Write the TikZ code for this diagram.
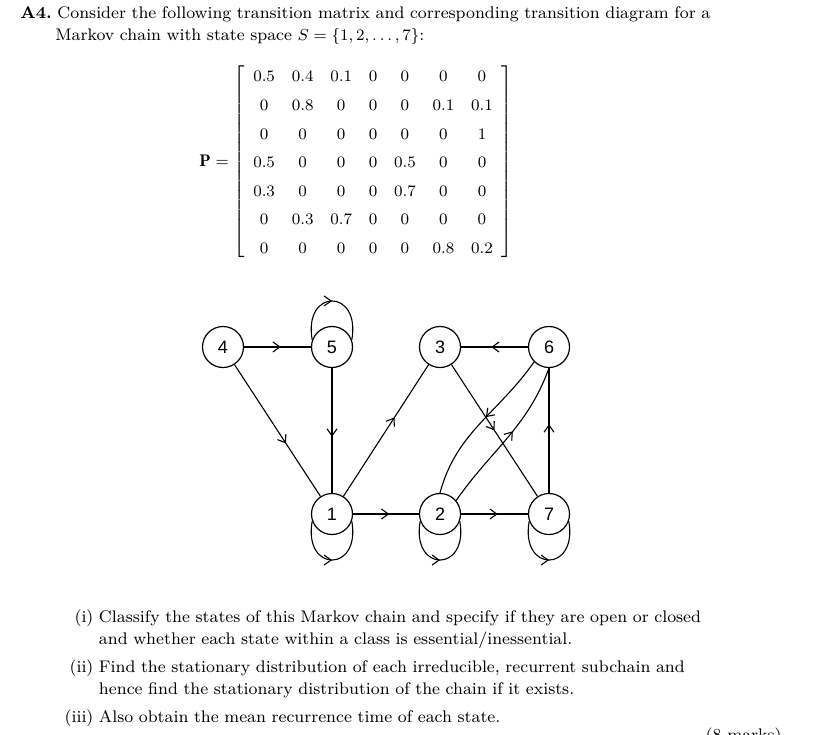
\documentclass[tikz,border=0pt]{standalone}
\usepackage{amsmath}
\usepackage{fontspec}
\newfontfamily\lab{Liberation Sans}
\usetikzlibrary{decorations.markings,arrows.meta}
\begin{document}
\begin{tikzpicture}[x=0.5pt,y=-0.5pt,
  st/.style={circle,draw,line width=0.6pt,minimum size=20.5pt,inner sep=0pt,font=\lab\fontsize{9}{10}\selectfont},
  ed/.style={line width=0.55pt,postaction={decorate},decoration={markings,mark=at position #1 with {\arrow{Straight Barb[length=3.5pt,width=5pt]}}}},
  ed/.default=0.55,
  txt/.style={anchor=north west,inner sep=0pt,font=\fontsize{8.4}{11}\selectfont}]
\useasboundingbox (0,0) rectangle (825,734);
\node[txt,text width=360pt,align=left] (t) at (20,6) {\textbf{A4.}\ Consider the following transition matrix and corresponding transition diagram for a\\ \hspace*{17.5pt}Markov chain with state space $S=\{1,2,\ldots,7\}$:};
\node[inner sep=0pt,font=\fontsize{8.4}{11}\selectfont] (m) at (356,162) {$\mathbf{P}=\left[\renewcommand{\arraystretch}{1.3}\setlength{\arraycolsep}{4.2pt}\begin{array}{ccccccc}
0.5&0.4&0.1&0&0&0&0\\
0&0.8&0&0&0&0.1&0.1\\
0&0&0&0&0&0&1\\
0.5&0&0&0&0.5&0&0\\
0.3&0&0&0&0.7&0&0\\
0&0.3&0.7&0&0&0&0\\
0&0&0&0&0&0.8&0.2
\end{array}\right]$};
\node[st] (n4) at (223,347) {4};
\node[st] (n5) at (332,347) {5};
\node[st] (n3) at (440,347) {3};
\node[st] (n6) at (549,347) {6};
\node[st] (n1) at (332,514) {1};
\node[st] (n2) at (440,514) {2};
\node[st] (n7) at (549,514) {7};
\draw[ed] (n4) -- (n5);
\draw[ed=0.6] (n4) -- (n1);
\draw[ed] (n5) -- (n1);
\draw[ed=0.6] (n1) -- (n3);
\draw[ed] (n1) -- (n2);
\draw[ed] (n2) -- (n7);
\draw[ed] (n6) -- (n3);
\draw[ed=0.5] (n3) -- (n7);
\draw[ed] (n7) -- (n6);
\draw[ed=0.45] (n6.225) to[out=235,in=75] (n2.north);
\draw[ed=0.55] (n2.40) to[out=55,in=250] (n6.south);
\draw[ed=0.5] (n5.160) to[out=100,in=80,looseness=3.4] (n5.20);
\draw[ed=0.5] (n1.200) to[out=260,in=280,looseness=3.4] (n1.340);
\draw[ed=0.5] (n2.200) to[out=260,in=280,looseness=3.4] (n2.340);
\draw[ed=0.5] (n7.200) to[out=260,in=280,looseness=3.4] (n7.340);
\node[txt,text width=340pt] (q) at (55,609) {%
\makebox[19pt][r]{(i)}\ \parbox[t]{312pt}{Classify the states of this Markov chain and specify if they are open or closed and whether each state within a class is essential/inessential.}\\[5pt]
\makebox[19pt][r]{(ii)}\ \parbox[t]{312pt}{Find the stationary distribution of each irreducible, recurrent subchain and hence find the stationary distribution of the chain if it exists.}\\[5pt]
\makebox[19pt][r]{(iii)}\ \parbox[t]{312pt}{Also obtain the mean recurrence time of each state.}};
\node[txt,anchor=north east] (mk) at (782,727) {(8 marks)};
\end{tikzpicture}
\end{document}
